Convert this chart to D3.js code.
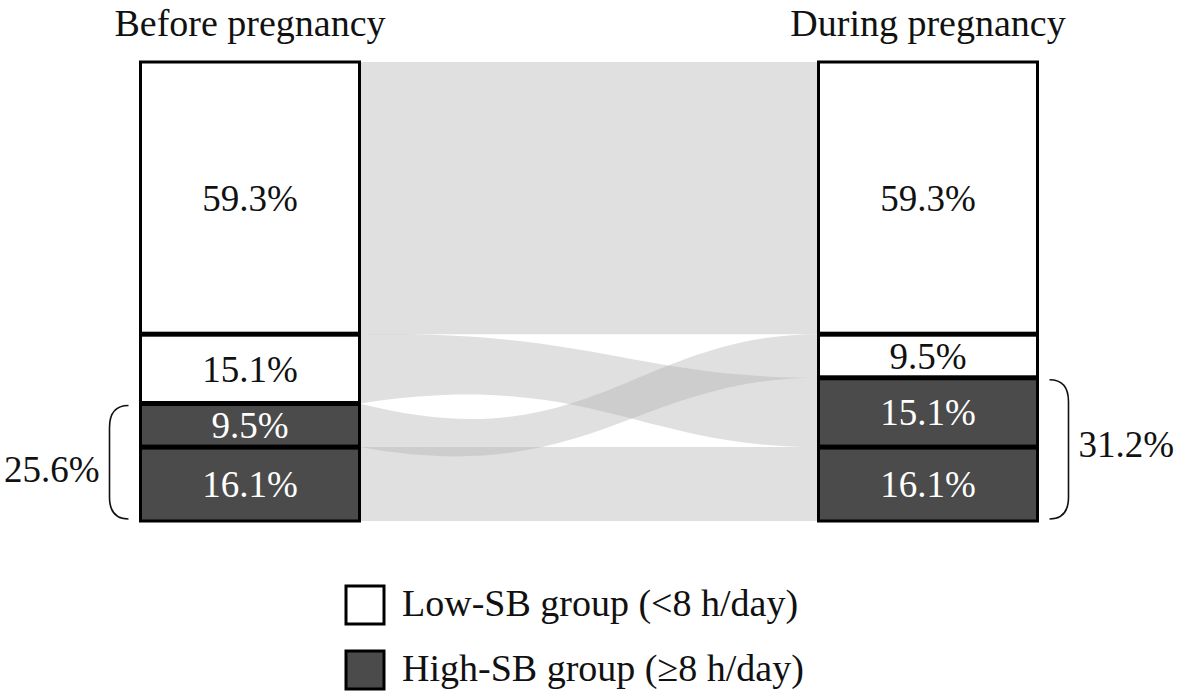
<!DOCTYPE html>
<html>
<head>
<meta charset="utf-8">
<script src="https://cdn.jsdelivr.net/npm/d3@7"></script>
<style>
  html, body { margin: 0; padding: 0; background: #fff; }
  svg { display: block; }
  svg text { font-family: "Liberation Serif", "Times New Roman", serif; }
  .title { font-size: 38px; fill: #111; }
  .seg-label { font-size: 37px; }
  .brace-label { font-size: 37px; fill: #111; }
  .legend-label { font-size: 38px; fill: #111; }
</style>
</head>
<body>
<div id="chart"></div>
<script>
// data (percent of participants)
const periods = ["Before pregnancy", "During pregnancy"];
const groupNames = ["Low-SB group (<8 h/day)", "High-SB group (\u22658 h/day)"];
const beforeValues = [59.3, 15.1, 9.5, 16.1];
const beforeGroups = [0, 0, 1, 1];
const duringValues = [59.3, 9.5, 15.1, 16.1];
const duringGroups = [0, 0, 1, 1];
// flows: segment index before -> segment index during
const flowFrom = [0, 1, 2, 3];
const flowTo = [0, 2, 1, 3];
const highTotals = ["25.6%", "31.2%"];

const WIDTH = 1179;
const HEIGHT = 696;
const COL_WIDTH = 219;
const GROUP_FILL = ["#ffffff", "#4b4b4b"];
const TEXT_FILL = ["#111111", "#ffffff"];
// how far each flow edge dips before it turns (top edge, bottom edge)
const FLOW_DIP = [[0, 0], [0.1, 0.8], [0.85, 0.6], [0, 0]];

const x = d3.scalePoint().domain(periods).range([250, 928]);
const y = d3.scaleLinear().domain([0, 100]).range([62, 521]);

function stack(values) {
  let acc = 0;
  return values.map((v) => {
    const s = { start: acc, end: acc + v, value: v };
    acc += v;
    return s;
  });
}

const columns = [
  { period: periods[0], segs: stack(beforeValues), groups: beforeGroups },
  { period: periods[1], segs: stack(duringValues), groups: duringGroups }
];

const svg = d3.select("#chart")
  .append("svg")
  .attr("width", WIDTH)
  .attr("height", HEIGHT)
  .attr("viewBox", `0 0 ${WIDTH} ${HEIGHT}`);

// edge from (x0,y0) to (x1,y1), with a small counter-swing at the start
function edge(p, x0, y0, x1, y1, dip, reverse) {
  const w = x1 - x0;
  const dy = y1 - y0;
  const c1 = [x0 + 0.5 * w, y0 - dip * dy];
  const c2 = [x0 + 0.6 * w, y1];
  if (!reverse) {
    p.bezierCurveTo(c1[0], c1[1], c2[0], c2[1], x1, y1);
  } else {
    p.bezierCurveTo(c2[0], c2[1], c1[0], c1[1], x0, y0);
  }
}

const xL = x(periods[0]) + COL_WIDTH / 2;
const xR = x(periods[1]) - COL_WIDTH / 2;

const flowLayer = svg.append("g").attr("class", "flows");
flowFrom.forEach((fi, k) => {
  const a = columns[0].segs[fi];
  const b = columns[1].segs[flowTo[k]];
  const p = d3.path();
  p.moveTo(xL, y(a.start));
  edge(p, xL, y(a.start), xR, y(b.start), FLOW_DIP[k][0], false);
  p.lineTo(xR, y(b.end));
  edge(p, xL, y(a.end), xR, y(b.end), FLOW_DIP[k][1], true);
  p.closePath();
  flowLayer.append("path")
    .attr("d", p.toString())
    .attr("fill", "#afafaf")
    .attr("fill-opacity", 0.39);
});

// stacked columns
columns.forEach((col) => {
  const g = svg.append("g").attr("class", "column");
  const cx = x(col.period);
  const last = col.segs.length - 1;
  col.segs.forEach((s, i) => {
    const top = y(s.start) + (i > 0 ? 1 : 0);
    const bot = y(s.end) - (i < last ? 1 : 0);
    g.append("rect")
      .attr("x", cx - COL_WIDTH / 2)
      .attr("y", top)
      .attr("width", COL_WIDTH)
      .attr("height", bot - top)
      .attr("fill", GROUP_FILL[col.groups[i]])
      .attr("stroke", "#000")
      .attr("stroke-width", 3);
    g.append("text")
      .attr("class", "seg-label")
      .attr("x", cx)
      .attr("y", (y(s.start) + y(s.end)) / 2 + 13)
      .attr("text-anchor", "middle")
      .attr("fill", TEXT_FILL[col.groups[i]])
      .text(`${s.value.toFixed(1)}%`);
  });
  svg.append("text")
    .attr("class", "title")
    .attr("x", cx)
    .attr("y", 36)
    .attr("text-anchor", "middle")
    .text(col.period);
});

// braces round the high-SB part of each column
function brace(xEnd, xTip, y0, y1) {
  const r = 22;
  const p = d3.path();
  p.moveTo(xEnd, y0);
  p.quadraticCurveTo(xTip, y0, xTip, y0 + r);
  p.lineTo(xTip, y1 - r);
  p.quadraticCurveTo(xTip, y1, xEnd, y1);
  return p.toString();
}

columns.forEach((col, ci) => {
  const highSegs = col.segs.filter((s, i) => col.groups[i] === 1);
  const y0 = y(highSegs[0].start) + 2;
  const y1 = y(highSegs[highSegs.length - 1].end) - 2;
  const cx = x(col.period);
  const side = ci === 0 ? -1 : 1;
  const xEnd = cx + side * (COL_WIDTH / 2 + 12);
  const xTip = cx + side * (COL_WIDTH / 2 + 31);
  svg.append("path")
    .attr("d", brace(xEnd, xTip, y0, y1))
    .attr("fill", "none")
    .attr("stroke", "#111")
    .attr("stroke-width", 1.6);
  svg.append("text")
    .attr("class", "brace-label")
    .attr("x", ci === 0 ? xTip - 10 : xTip + 10)
    .attr("y", (y0 + y1) / 2 + (ci === 0 ? 20 : 8))
    .attr("text-anchor", ci === 0 ? "end" : "start")
    .text(highTotals[ci]);
});

// legend
const legend = svg.append("g").attr("transform", "translate(346,586)");
groupNames.forEach((name, i) => {
  const row = legend.append("g").attr("transform", `translate(0,${i * 65})`);
  row.append("rect")
    .attr("width", 38)
    .attr("height", 38)
    .attr("fill", GROUP_FILL[i])
    .attr("stroke", "#000")
    .attr("stroke-width", 3);
  row.append("text")
    .attr("class", "legend-label")
    .attr("x", 56)
    .attr("y", 30)
    .text(name);
});
</script>
</body>
</html>
